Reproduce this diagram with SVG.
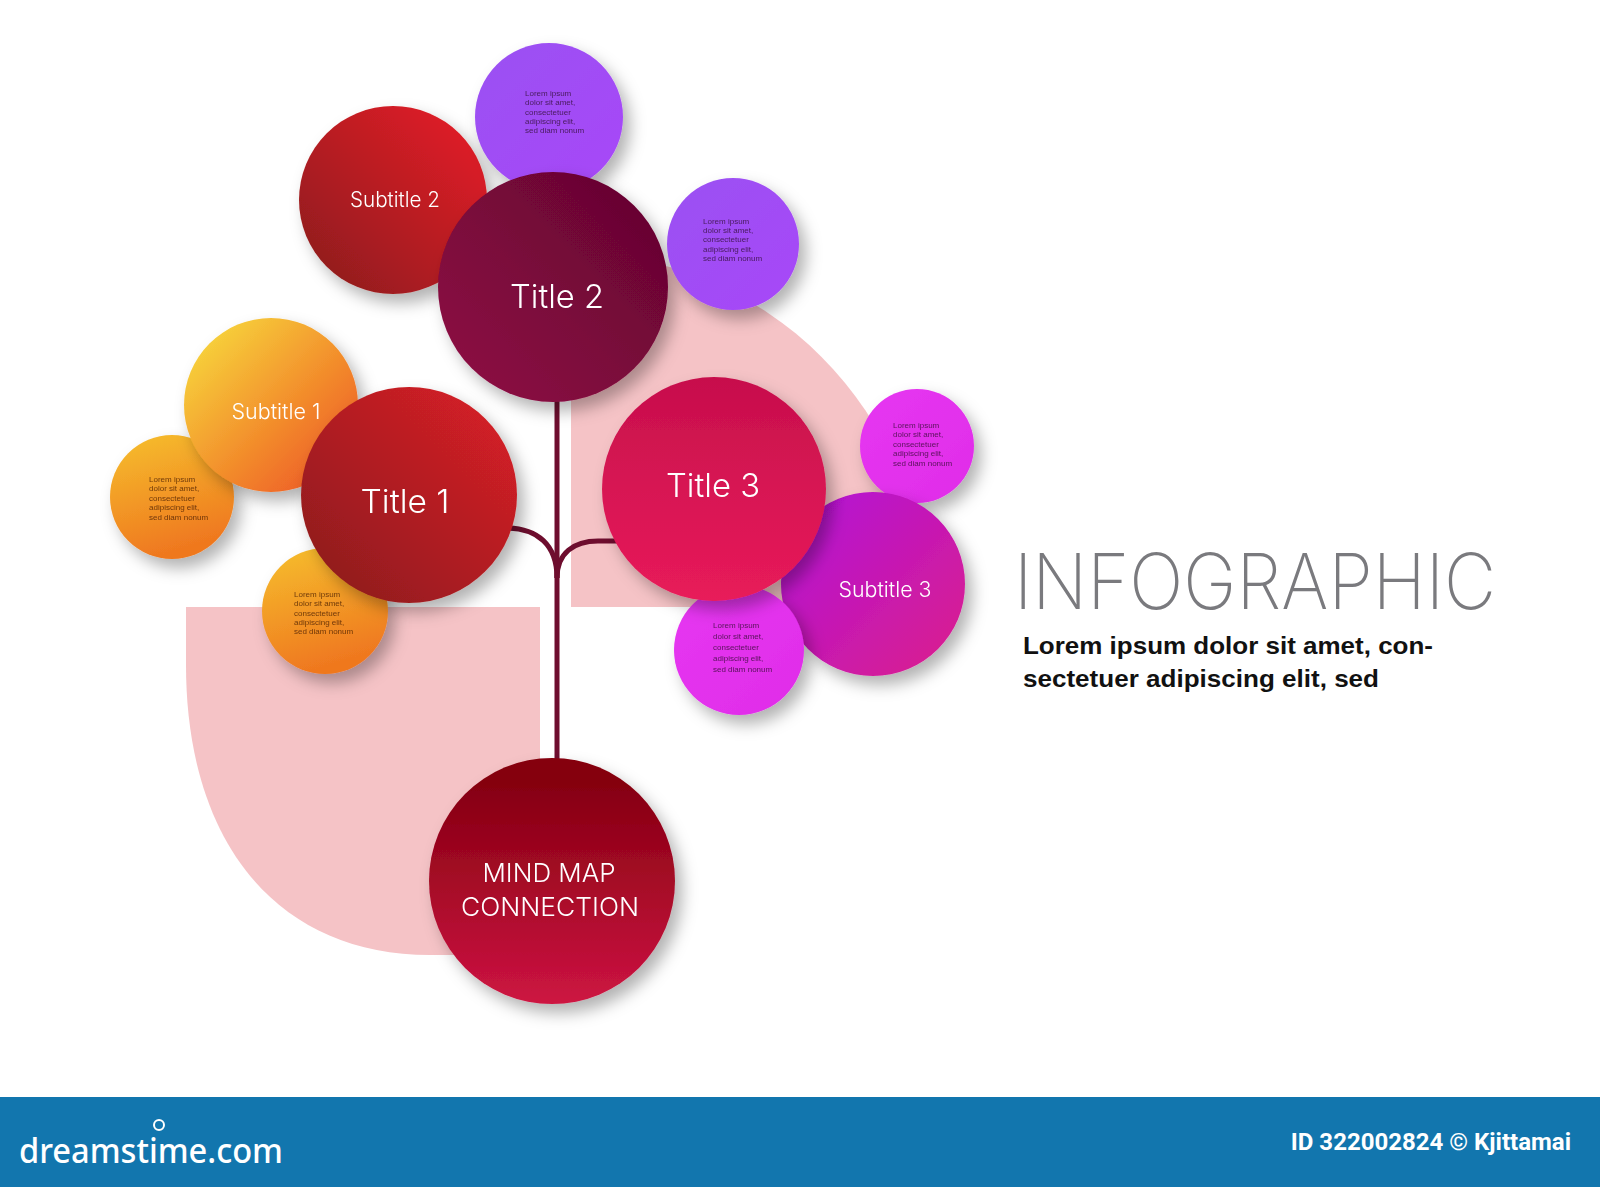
<svg xmlns="http://www.w3.org/2000/svg" width="1600" height="1187" viewBox="0 0 1600 1187">
  <style>
    .lbl { font-family: Inter, "Liberation Sans", Arial, sans-serif; font-weight: 300; fill: #ffffff; text-anchor: middle; }
    .sub { font-size: 21px; }
    .ttl { font-size: 33px; }
    .mm { font-size: 26px; }
    .tiny { font-family: "Liberation Sans", Arial, sans-serif; font-size: 8px; fill: #2a0a28; fill-opacity: 0.75; }
    .tinyo { font-family: "Liberation Sans", Arial, sans-serif; font-size: 8px; fill: #4a1e00; fill-opacity: 0.8; }
    .pink { fill: #f5c3c6; }
    .stem { fill: none; stroke: #6e0d2e; stroke-width: 5; stroke-linecap: butt; }
  </style>
  <defs>
    <filter id="sh" x="-30%" y="-30%" width="170%" height="170%">
      <feDropShadow dx="7" dy="9" stdDeviation="8" flood-color="#000" flood-opacity="0.3"/>
    </filter>
    <linearGradient id="gSub2" x1="1" y1="0" x2="0" y2="1">
      <stop offset="0" stop-color="#ea1f28"/>
      <stop offset="1" stop-color="#871e1d"/>
    </linearGradient>
    <linearGradient id="gPurple" x1="0" y1="0" x2="1" y2="1">
      <stop offset="0" stop-color="#9a52f2"/>
      <stop offset="1" stop-color="#a847f8"/>
    </linearGradient>
    <linearGradient id="gTitle2" x1="1" y1="0" x2="0" y2="1">
      <stop offset="0" stop-color="#62042f"/>
      <stop offset="1" stop-color="#900c45"/>
    </linearGradient>
    <linearGradient id="gSub1" x1="0" y1="0" x2="1" y2="1">
      <stop offset="0.1" stop-color="#f7d43c"/>
      <stop offset="0.6" stop-color="#f2872a"/>
      <stop offset="1" stop-color="#ec4a27"/>
    </linearGradient>
    <linearGradient id="gOrange" x1="0" y1="0" x2="0.3" y2="1">
      <stop offset="0" stop-color="#f6c02e"/>
      <stop offset="1" stop-color="#ef781f"/>
    </linearGradient>
    <linearGradient id="gTitle1" x1="1" y1="0" x2="0" y2="1">
      <stop offset="0" stop-color="#dc2027"/>
      <stop offset="1" stop-color="#871d1d"/>
    </linearGradient>
    <linearGradient id="gTitle3" x1="0" y1="0" x2="0" y2="1">
      <stop offset="0" stop-color="#c70f4c"/>
      <stop offset="1" stop-color="#e81b5a"/>
    </linearGradient>
    <linearGradient id="gMag" x1="0" y1="0" x2="1" y2="1">
      <stop offset="0" stop-color="#e637f2"/>
      <stop offset="1" stop-color="#e02ce8"/>
    </linearGradient>
    <linearGradient id="gSub3" x1="0" y1="0" x2="1" y2="1">
      <stop offset="0" stop-color="#b00edb"/>
      <stop offset="1" stop-color="#dc228a"/>
    </linearGradient>
    <linearGradient id="gMind" x1="0" y1="0" x2="0" y2="1">
      <stop offset="0.1" stop-color="#850010"/>
      <stop offset="1" stop-color="#cd1442"/>
    </linearGradient>
  </defs>

  <rect width="1600" height="1187" fill="#ffffff"/>

  <!-- pink background shapes -->
  <g id="backgrounds">
    <path class="pink" d="M186,607 H540 V955 H430 C275,955 186,840 186,665 Z"/>
    <path class="pink" d="M571,607 V253 A354,354 0 0 1 925,607 Z"/>
  </g>

  <!-- connectors -->
  <g id="connectors">
    <path class="stem" d="M557,398 V762"/>
    <path class="stem" d="M505,528 C538,528 557,545 557,578"/>
    <path class="stem" d="M620,541 H598 C574,541 557,553 557,578"/>
  </g>

  <g id="subtitle2" filter="url(#sh)">
    <circle cx="393" cy="200" r="94" fill="url(#gSub2)"/>
    <text class="lbl sub" x="395" y="207" textLength="90" lengthAdjust="spacingAndGlyphs">Subtitle 2</text>
  </g>

  <g id="note-purple-top" filter="url(#sh)">
    <circle cx="549" cy="117" r="74" fill="url(#gPurple)"/>
    <text class="tiny" x="525" y="96">Lorem ipsum</text>
    <text class="tiny" x="525" y="105.3">dolor sit amet,</text>
    <text class="tiny" x="525" y="114.6">consectetuer</text>
    <text class="tiny" x="525" y="123.9">adipiscing elit,</text>
    <text class="tiny" x="525" y="133.2">sed diam nonum</text>
  </g>

  <g id="title2" filter="url(#sh)">
    <circle cx="553" cy="287" r="115" fill="url(#gTitle2)"/>
    <text class="lbl ttl" x="557" y="308" textLength="94" lengthAdjust="spacingAndGlyphs">Title 2</text>
  </g>

  <g id="note-purple-right" filter="url(#sh)">
    <circle cx="733" cy="244" r="66" fill="url(#gPurple)"/>
    <text class="tiny" x="703" y="224">Lorem ipsum</text>
    <text class="tiny" x="703" y="233.2">dolor sit amet,</text>
    <text class="tiny" x="703" y="242.4">consectetuer</text>
    <text class="tiny" x="703" y="251.6">adipiscing elit,</text>
    <text class="tiny" x="703" y="260.8">sed diam nonum</text>
  </g>

  <g id="note-orange-left" filter="url(#sh)">
    <circle cx="172" cy="497" r="62" fill="url(#gOrange)"/>
    <text class="tinyo" x="149" y="482">Lorem ipsum</text>
    <text class="tinyo" x="149" y="491.4">dolor sit amet,</text>
    <text class="tinyo" x="149" y="500.8">consectetuer</text>
    <text class="tinyo" x="149" y="510.2">adipiscing elit,</text>
    <text class="tinyo" x="149" y="519.6">sed diam nonum</text>
  </g>

  <g id="subtitle1" filter="url(#sh)">
    <circle cx="271" cy="405" r="87" fill="url(#gSub1)"/>
    <text class="lbl sub" x="276" y="419" textLength="89" lengthAdjust="spacingAndGlyphs">Subtitle 1</text>
  </g>

  <g id="note-orange-bottom" filter="url(#sh)">
    <circle cx="325" cy="611" r="63" fill="url(#gOrange)"/>
    <text class="tinyo" x="294" y="597">Lorem ipsum</text>
    <text class="tinyo" x="294" y="606.3">dolor sit amet,</text>
    <text class="tinyo" x="294" y="615.6">consectetuer</text>
    <text class="tinyo" x="294" y="624.9">adipiscing elit,</text>
    <text class="tinyo" x="294" y="634.2">sed diam nonum</text>
  </g>

  <g id="title1" filter="url(#sh)">
    <circle cx="409" cy="495" r="108" fill="url(#gTitle1)"/>
    <text class="lbl ttl" x="405" y="513" textLength="89" lengthAdjust="spacingAndGlyphs">Title 1</text>
  </g>

  <g id="note-magenta-top" filter="url(#sh)">
    <circle cx="917" cy="446" r="57" fill="url(#gMag)"/>
    <text class="tiny" x="893" y="428">Lorem ipsum</text>
    <text class="tiny" x="893" y="437.4">dolor sit amet,</text>
    <text class="tiny" x="893" y="446.8">consectetuer</text>
    <text class="tiny" x="893" y="456.2">adipiscing elit,</text>
    <text class="tiny" x="893" y="465.6">sed diam nonum</text>
  </g>

  <g id="subtitle3" filter="url(#sh)">
    <circle cx="873" cy="584" r="92" fill="url(#gSub3)"/>
    <text class="lbl sub" x="885" y="597" textLength="93" lengthAdjust="spacingAndGlyphs">Subtitle 3</text>
  </g>

  <g id="note-magenta-bottom" filter="url(#sh)">
    <circle cx="739" cy="650" r="65" fill="url(#gMag)"/>
    <text class="tiny" x="713" y="628">Lorem ipsum</text>
    <text class="tiny" x="713" y="639">dolor sit amet,</text>
    <text class="tiny" x="713" y="650">consectetuer</text>
    <text class="tiny" x="713" y="661">adipiscing elit,</text>
    <text class="tiny" x="713" y="672">sed diam nonum</text>
  </g>

  <g id="title3" filter="url(#sh)">
    <circle cx="714" cy="489" r="112" fill="url(#gTitle3)"/>
    <text class="lbl ttl" x="713" y="497" textLength="94" lengthAdjust="spacingAndGlyphs">Title 3</text>
  </g>

  <g id="mindmap" filter="url(#sh)">
    <circle cx="552" cy="881" r="123" fill="url(#gMind)"/>
    <text class="lbl mm" x="549" y="882" textLength="133" lengthAdjust="spacingAndGlyphs">MIND MAP</text>
    <text class="lbl mm" x="550" y="916" textLength="178" lengthAdjust="spacingAndGlyphs">CONNECTION</text>
  </g>

  <g id="heading">
    <text x="1014" y="609" font-family="Inter, Lato, 'Liberation Sans', sans-serif" font-weight="200" font-size="77" fill="#7a7a7e" textLength="482" lengthAdjust="spacingAndGlyphs">INFOGRAPHIC</text>
    <text x="1023" y="654" font-family="'Liberation Sans', Arial, sans-serif" font-weight="bold" font-size="24.5" fill="#111111" textLength="410" lengthAdjust="spacingAndGlyphs">Lorem ipsum dolor sit amet, con-</text>
    <text x="1023" y="687" font-family="'Liberation Sans', Arial, sans-serif" font-weight="bold" font-size="24.5" fill="#111111" textLength="356" lengthAdjust="spacingAndGlyphs">sectetuer adipiscing elit, sed</text>
  </g>

  <g id="banner">
    <rect x="0" y="1097" width="1600" height="90" fill="#1276ae"/>
    <circle cx="159" cy="1125" r="5" fill="none" stroke="#ffffff" stroke-width="2"/>
    <text x="19" y="1163" font-family="'Noto Sans', 'Open Sans', sans-serif" font-weight="500" font-size="34" fill="#ffffff" textLength="264" lengthAdjust="spacingAndGlyphs">dreamstime.com</text>
    <text x="1571" y="1150" text-anchor="end" font-family="Roboto, 'Liberation Sans', sans-serif" font-weight="bold" font-size="24" fill="#ffffff">ID 322002824 © Kjittamai</text>
  </g>
</svg>
